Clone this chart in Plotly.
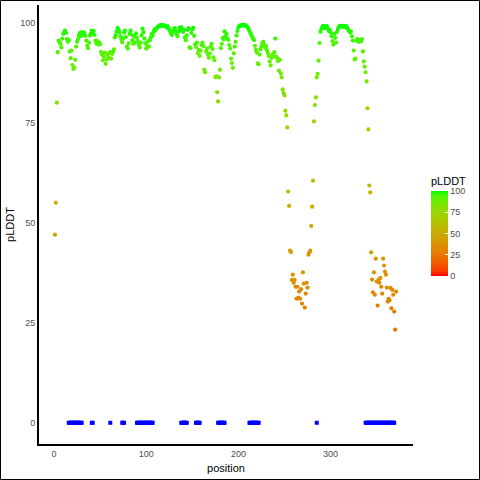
import plotly.graph_objects as go

# pLDDT per residue (positions 1..371)
plddt = [
    47.0, 55.0, 80.0, 92.6, 95.5, 95.1, 94.7, 93.8, 96.0, 97.2,
    97.6, 98.0, 97.4, 95.9, 95.2, 95.6, 92.8, 91.1, 93.0, 89.4,
    88.4, 88.8, 90.7, 94.0, 95.2, 95.9, 96.8, 97.4, 96.6, 97.6,
    97.2, 96.9, 97.5, 96.7, 95.5, 94.2, 93.6, 95.0, 96.8, 97.2,
    98.0, 97.6, 97.9, 96.9, 95.5, 94.8, 95.4, 94.5, 95.0, 94.6,
    92.7, 92.0, 90.6, 91.5, 92.5, 89.7, 90.8, 91.9, 92.3, 91.1,
    92.6, 91.0, 92.2, 92.7, 93.3, 96.3, 96.9, 97.8, 98.6, 98.2,
    97.6, 96.6, 95.9, 95.1, 96.0, 97.5, 98.0, 96.4, 94.0, 93.5,
    94.8, 97.2, 98.0, 97.0, 95.6, 94.7, 96.5, 95.0, 97.3, 96.2,
    95.4, 94.4, 93.8, 95.0, 96.8, 98.5, 97.6, 96.0, 94.8, 93.5,
    94.2, 95.3, 94.0, 95.6, 96.3, 97.2, 96.8, 97.7, 98.3, 98.0,
    98.5, 98.8, 99.0, 99.2, 99.3, 99.4, 99.1, 99.3, 99.4, 99.2,
    99.0, 98.8, 99.1, 98.6, 98.3, 97.8, 97.3, 96.9, 97.7, 98.4,
    98.6, 97.9, 97.2, 96.6, 97.8, 98.7, 98.2, 98.9, 98.4, 97.7,
    98.1, 96.3, 95.6, 96.8, 98.2, 98.6, 93.8, 93.6, 97.4, 98.3,
    98.7, 96.7, 94.6, 93.9, 95.0, 92.4, 93.2, 91.7, 93.0, 94.4,
    95.0, 94.1, 88.2, 87.6, 92.8, 93.5, 92.0, 91.2, 92.3, 94.0,
    94.7, 93.4, 91.3, 90.6, 86.4, 86.6, 82.6, 80.3, 86.3, 88.2,
    93.6, 94.7, 96.2, 95.8, 97.8, 96.5, 97.2, 96.0, 95.7, 94.4,
    93.5, 91.0, 89.9, 88.7, 92.3, 94.0, 95.2, 96.8, 97.9, 98.8,
    99.1, 99.3, 99.2, 99.4, 99.3, 99.5, 99.2, 99.3, 99.0, 98.8,
    98.4, 97.9, 97.4, 96.9, 96.4, 96.0, 95.6, 94.2, 93.2, 92.5,
    89.8, 89.6, 92.0, 93.3, 94.0, 94.8, 95.2, 94.5, 93.8, 94.1,
    93.1, 92.4, 91.6, 90.3, 89.3, 91.2, 92.0, 91.5, 92.6, 96.0,
    91.5, 91.2, 90.4, 88.0, 90.7, 87.3, 86.3, 83.3, 82.4, 81.8,
    78.0, 76.8, 73.8, 57.8, 54.2, 43.0, 42.7, 35.7, 37.0, 35.0,
    35.7, 34.0, 31.0, 34.0, 31.3, 32.8, 31.0, 33.4, 29.8, 37.6,
    34.8, 28.8, 32.3, 35.0, 33.8, 42.0, 42.6, 43.0, 49.2, 54.0,
    60.5, 75.3, 79.4, 81.3, 86.3, 87.2, 90.5, 94.9, 97.7, 98.4,
    98.9, 99.2, 98.6, 99.0, 98.7, 99.1, 98.5, 97.9, 98.2, 97.6,
    96.6, 95.4, 94.5, 97.2, 96.2, 95.0, 97.7, 98.4, 98.9, 99.2,
    99.1, 99.2, 98.9, 99.2, 99.0, 98.8, 99.1, 98.7, 98.3, 97.9,
    97.6, 97.8, 96.6, 95.5, 93.0, 90.8, 91.0, 95.4, 95.9, 95.6,
    95.2, 95.7, 95.3, 95.9, 92.8, 90.3, 89.0, 87.6, 85.3, 78.6,
    73.3, 59.3, 57.6, 42.6, 35.8, 32.6, 37.6, 32.0, 41.0, 35.3,
    29.3, 35.7, 35.0, 36.2, 34.0, 32.3, 41.0, 39.3, 37.8, 37.0,
    33.8, 30.3, 31.0, 30.6, 33.7, 28.6, 33.2, 32.0, 27.8, 23.3,
    32.8,
]
position = list(range(1, len(plddt) + 1))

# annotated regions drawn at y = 0 (start, end)
blue_regions = [(16, 30), (41, 42), (61, 61), (74, 76), (90, 107), (138, 144),
                (154, 158), (178, 185), (212, 222), (285, 285), (338, 369)]
blue_pos = [p for a, b in blue_regions for p in range(a, b + 1)]
blue_y = [0] * len(blue_pos)

x_ticks = [0, 100, 200, 300]
y_ticks = [0, 25, 50, 75, 100]
cbar_ticks = [0, 25, 50, 75, 100]


# ggplot-like red -> green gradient interpolated in Lab space
def srgb_to_lab(c):
    rgb = []
    for v in c:
        v = v / 255
        rgb.append(((v + 0.055) / 1.055) ** 2.4 if v > 0.04045 else v / 12.92)
    r, g, b = rgb
    x = (0.4124 * r + 0.3576 * g + 0.1805 * b) / 0.95047
    y = 0.2126 * r + 0.7152 * g + 0.0722 * b
    z = (0.0193 * r + 0.1192 * g + 0.9505 * b) / 1.08883
    f = lambda t: t ** (1 / 3) if t > 0.008856 else 7.787 * t + 16 / 116
    fx, fy, fz = f(x), f(y), f(z)
    return 116 * fy - 16, 500 * (fx - fy), 200 * (fy - fz)


def lab_to_srgb(L, a, b):
    fy = (L + 16) / 116
    fx = fy + a / 500
    fz = fy - b / 200
    finv = lambda t: t ** 3 if t ** 3 > 0.008856 else (t - 16 / 116) / 7.787
    x, y, z = finv(fx) * 0.95047, finv(fy), finv(fz) * 1.08883
    r = 3.2406 * x - 1.5372 * y - 0.4986 * z
    g = -0.9689 * x + 1.8758 * y + 0.0415 * z
    bl = 0.0557 * x - 0.2040 * y + 1.0570 * z
    out = []
    for v in (r, g, bl):
        v = max(0.0, min(1.0, v))
        v = 1.055 * v ** (1 / 2.4) - 0.055 if v > 0.0031308 else 12.92 * v
        out.append(round(v * 255))
    return "rgb(%d,%d,%d)" % tuple(out)


lo = srgb_to_lab((255, 0, 0))
hi = srgb_to_lab((0, 255, 0))
scale = []
for i in range(21):
    t = i / 20
    scale.append([t, lab_to_srgb(*[lo[k] + (hi[k] - lo[k]) * t for k in range(3)])])

fig = go.Figure()

fig.add_trace(go.Scatter(
    x=blue_pos, y=blue_y, mode="markers",
    marker=dict(symbol="square", size=4, color="#0000FF", line=dict(width=0)),
    showlegend=False, hoverinfo="skip",
))

# colorbar box = title (~17px) + bar (85px), bar spans y 191..276 in pixels
fig.add_trace(go.Scatter(
    x=position, y=plddt, mode="markers",
    marker=dict(
        size=4.2, color=plddt, colorscale=scale, cmin=0, cmax=100,
        line=dict(width=0),
        colorbar=dict(
            title=dict(text="pLDDT", side="top", font=dict(size=11, color="black")),
            tickvals=cbar_ticks, ticks="inside", tickcolor="white", ticklen=3,
            tickfont=dict(size=9, color="#4D4D4D"),
            thickness=17, len=102 / 439, lenmode="fraction",
            x=(431 - 39) / 374, xanchor="left", xpad=0,
            y=(444 - 276) / 439, yanchor="bottom", ypad=0,
            outlinewidth=0,
        ),
    ),
    showlegend=False,
))

W, H = 480, 480
ml, mr, mt, mb = 39, 67, 5, 36
pw, ph = W - ml - mr, H - mt - mb

fig.update_layout(
    width=W, height=H,
    margin=dict(l=ml, r=mr, t=mt, b=mb),
    plot_bgcolor="white", paper_bgcolor="white",
    font=dict(family="Liberation Sans, Arial, sans-serif", size=11, color="black"),
    xaxis=dict(
        range=[-16.3, 389.4], tickvals=x_ticks, showgrid=False, zeroline=False,
        showline=True, linecolor="black", linewidth=2, ticks="",
        tickfont=dict(size=9, color="#4D4D4D"),
        title=dict(text="position", font=dict(size=11), standoff=7),
    ),
    yaxis=dict(
        range=[-5.3, 104.4], tickvals=y_ticks, showgrid=False, zeroline=False,
        showline=True, linecolor="black", linewidth=2, ticks="",
        tickfont=dict(size=9, color="#4D4D4D"),
        title=dict(text="pLDDT", font=dict(size=11), standoff=3),
    ),
    shapes=[dict(
        type="rect", xref="paper", yref="paper",
        x0=-(ml - 0.5) / pw, x1=1 + (mr - 0.5) / pw,
        y0=-(mb - 0.5) / ph, y1=1 + (mt - 0.5) / ph,
        line=dict(color="black", width=1), fillcolor="rgba(0,0,0,0)",
    )],
)

fig.write_html("out.html", config={"displayModeBar": False},
               post_script="document.body.style.margin='0';")
